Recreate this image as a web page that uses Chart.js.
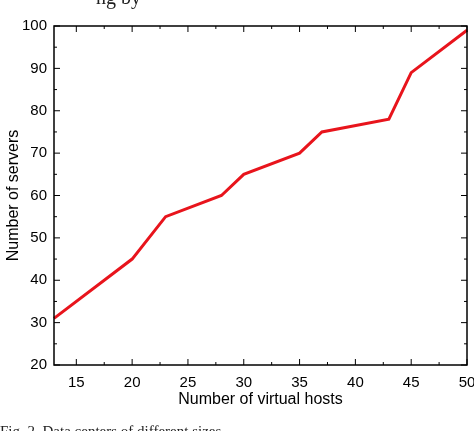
<!DOCTYPE html>
<html><head><meta charset="utf-8">
<script src="https://cdn.jsdelivr.net/npm/chart.js@4"></script>
<style>html,body{margin:0;padding:0;background:#fff}#w{width:474px;height:431px;position:relative}</style>
</head><body><div id="w"><canvas id="c"></canvas></div>
<script>
const hosts = [13, 20, 23, 28, 30, 35, 37, 43, 45, 50];
const servers = [31, 45, 55, 60, 65, 70, 75, 78, 89, 99];
const xTicks = [15, 20, 25, 30, 35, 40, 45, 50];
const yTicks = [20, 30, 40, 50, 60, 70, 80, 90, 100];
const F = "'Liberation Sans', Arial, sans-serif";

const frame = {
  id: 'frame',
  afterDraw(ch) {
    const c = ch.ctx, a = ch.chartArea, x = ch.scales.x, y = ch.scales.y;
    c.save();
    c.strokeStyle = '#000'; c.lineWidth = 1.5;
    c.strokeRect(a.left, a.top, a.right - a.left, a.bottom - a.top);
    c.lineWidth = 1;
    c.beginPath();
    for (let v = 15; v <= 50; v += 2.5) {
      const p = x.getPixelForValue(v), L = (v % 5 === 0) ? 6 : 3;
      c.moveTo(p, a.bottom); c.lineTo(p, a.bottom - L);
      c.moveTo(p, a.top); c.lineTo(p, a.top + L);
    }
    for (let v = 20; v <= 100; v += 5) {
      const p = y.getPixelForValue(v), L = (v % 10 === 0) ? 6 : 3;
      c.moveTo(a.left, p); c.lineTo(a.left + L, p);
      c.moveTo(a.right, p); c.lineTo(a.right - L, p);
    }
    c.stroke();
    c.fillStyle = '#222'; c.font = "15px 'Liberation Serif', serif"; c.textBaseline = 'alphabetic';
    c.fillText('Fig. 2. Data centers of different sizes', 0, 436);
    c.font = "20px 'Liberation Serif', serif";
    c.fillText('ng by', 96, 4);
    c.restore();
  }
};

new Chart(document.getElementById('c'), {
  type: 'line',
  data: { datasets: [{ data: hosts.map((h, i) => ({ x: h, y: servers[i] })),
    borderColor: '#e8141c', borderWidth: 3, pointRadius: 0, tension: 0, clip: false }] },
  options: {
    responsive: true, maintainAspectRatio: false, animation: false,
    layout: { padding: { top: 26, right: 7, left: 0, bottom: 18 } },
    plugins: { legend: { display: false }, tooltip: { enabled: false } },
    scales: {
      x: { type: 'linear', min: 13, max: 50,
        afterBuildTicks: s => { s.ticks = xTicks.map(v => ({ value: v })); },
        afterFit: s => { s.height = 48; s.paddingRight = 0; s.paddingLeft = 0; },
        grid: { display: false, drawTicks: false }, border: { display: false },
        ticks: { color: '#000', font: { family: F, size: 15 }, padding: 9, maxRotation: 0 },
        title: { display: true, text: 'Number of virtual hosts', color: '#000', font: { family: F, size: 16 }, padding: { top: 4 } } },
      y: { min: 20, max: 100,
        afterBuildTicks: s => { s.ticks = yTicks.map(v => ({ value: v })); },
        afterFit: s => { s.width = 54; s.paddingTop = 0; s.paddingBottom = 0; },
        grid: { display: false, drawTicks: false }, border: { display: false },
        ticks: { color: '#000', font: { family: F, size: 15 }, padding: 7 },
        title: { display: true, text: 'Number of servers', color: '#000', font: { family: F, size: 16 }, padding: { bottom: 2 } } }
    }
  },
  plugins: [frame]
});
</script></body></html>
